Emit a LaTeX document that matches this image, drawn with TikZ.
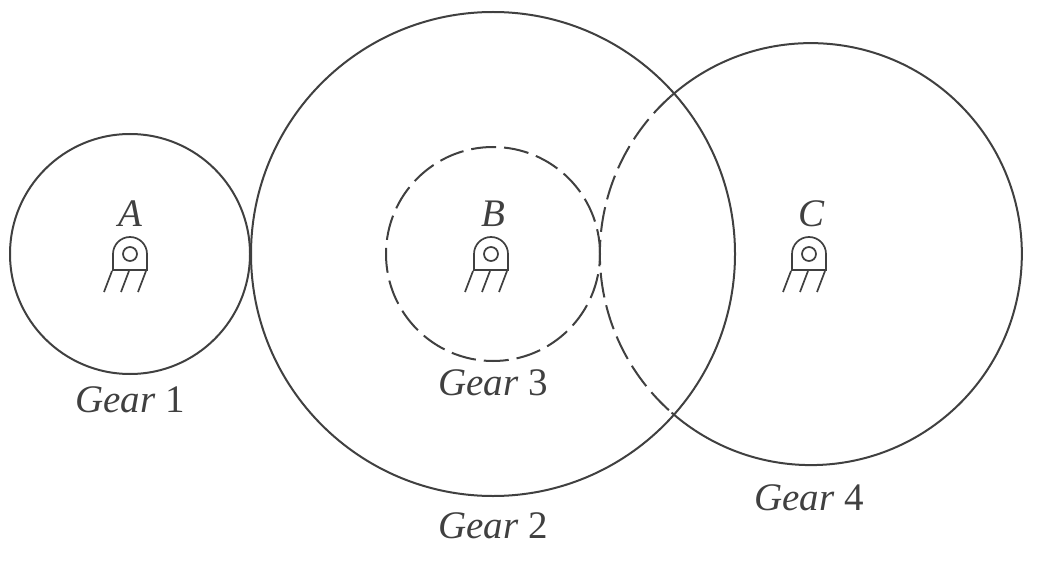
\documentclass[tikz,border=0pt]{standalone}
\usepackage{fontspec}
\setmainfont{Liberation Serif}
\definecolor{ink}{gray}{0.25}
\tikzset{
  gearline/.style={draw=ink,line width=2pt},
  gearcircle/.style={circle,gearline,inner sep=0pt,outer sep=0pt},
  hiddenline/.style={draw=ink,line width=2pt,dash pattern=on 25pt off 8pt},
  lbl/.style={text=ink,font=\fontsize{39}{43}\selectfont,inner sep=0pt},
  pinline/.style={draw=ink,line width=1.7pt},
  pics/support/.style={code={
    \draw[pinline] (-17,16) -- (-17,0) arc[start angle=180,end angle=360,radius=17] -- (17,16) -- cycle;
    \draw[pinline] (0,0) circle[radius=7];
    \draw[pinline] (-18,17) -- (-26,38) (-1,17) -- (-9,38) (16,17) -- (8,38);
  }}
}
\begin{document}
\begin{tikzpicture}[x=1pt,y=-1pt]
\useasboundingbox (0,0) rectangle (1038,588);
\node[gearcircle,minimum size=240pt] (g1) at (130,254) {};
\node[gearcircle,minimum size=484pt] (g2) at (493,254) {};
\node[circle,hiddenline,inner sep=0pt,minimum size=214pt] (g3) at (493,254) {};
\coordinate (c4) at (811,254);
\draw[gearline] (c4) ++(-139.4,-158.4) arc[start angle=-131.3,end angle=131.3,radius=211];
\draw[hiddenline] (c4) ++(-139.4,-158.4) arc[start angle=-131.3,end angle=-228.7,radius=211];
\pic at (130,254) {support};
\pic at (491,254) {support};
\pic at (809,254) {support};
\node[lbl] (a) at (130,214) {\itshape A};
\node[lbl] (b) at (493,214) {\itshape B};
\node[lbl] (c) at (811,214) {\itshape C};
\node[lbl] (t1) at (130,400) {\itshape Gear\/ \upshape 1};
\node[lbl] (t3) at (493,383) {\itshape Gear\/ \upshape 3};
\node[lbl] (t2) at (493,526) {\itshape Gear\/ \upshape 2};
\node[lbl] (t4) at (809,498) {\itshape Gear\/ \upshape 4};
\end{tikzpicture}
\end{document}
